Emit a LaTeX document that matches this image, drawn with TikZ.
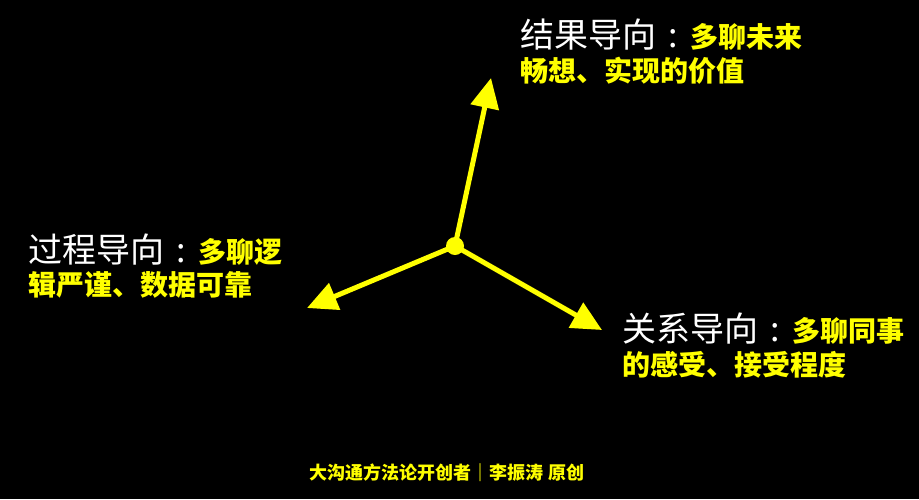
\documentclass[tikz,border=0pt]{standalone}
\usepackage{fontspec}
\setmainfont{Noto Sans CJK SC}
\usetikzlibrary{arrows.meta}
\definecolor{yel}{RGB}{255,255,0}
\tikzset{
  arr/.style={draw=yel, line width=5pt, -{Triangle[length=30pt,width=28pt]}},
  lbl/.style={anchor=base west, inner sep=0pt, text=white}
}
\newcommand{\wh}[1]{{\fontsize{34}{40}\selectfont #1\makebox[34pt][c]{:}}}
\newcommand{\yl}[1]{{\color{yel}\bfseries\fontsize{28}{34}\selectfont #1}}
\begin{document}
\begin{tikzpicture}[x=1pt,y=-1pt]
\fill[black] (0,0) rectangle (919,499);
\useasboundingbox (0,0) rectangle (919,499);
\coordinate (c) at (455,246);
\coordinate (up) at (491,78);
\coordinate (lf) at (307,308);
\coordinate (rt) at (602,330);
\draw[arr] (c) -- (up);
\draw[arr] (c) -- (lf);
\draw[arr] (c) -- (rt);
\fill[yel] (c) circle (9);
\node[lbl] (t1) at (520,47.5) {\wh{结果导向}\yl{多聊未来}};
\node[lbl] (t2) at (520,81) {\yl{畅想、实现的价值}};
\node[lbl] (l1) at (28,262) {\wh{过程导向}\yl{多聊逻}};
\node[lbl] (l2) at (28,295) {\yl{辑严谨、数据可靠}};
\node[lbl] (r1) at (622,341) {\wh{关系导向}\yl{多聊同事}};
\node[lbl] (r2) at (622,375) {\yl{的感受、接受程度}};
\node[anchor=base, inner sep=0pt, text=yel, font=\bfseries\fontsize{18}{22}\selectfont] (ft) at (447,479) {大沟通方法论开创者｜李振涛 原创};
\end{tikzpicture}
\end{document}
